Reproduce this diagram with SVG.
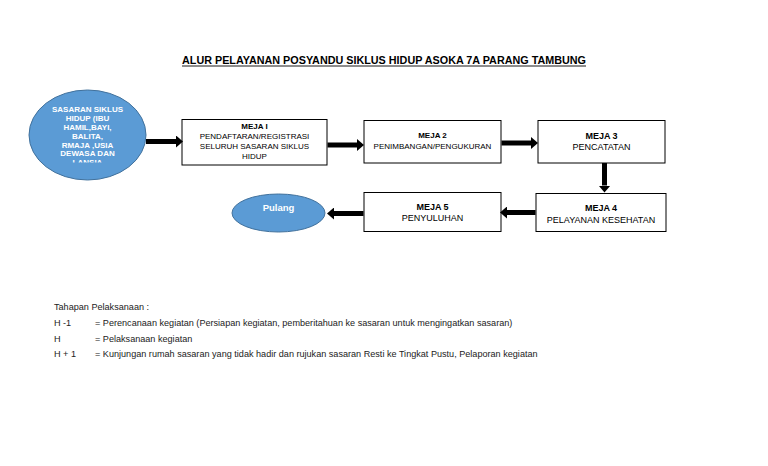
<svg xmlns="http://www.w3.org/2000/svg" width="768" height="466" viewBox="0 0 768 466">
<style>
  text { font-family: "Liberation Sans", Arial, sans-serif; fill: #000; }
  .box { fill: #fff; stroke: #000; stroke-width: 1; }
  .oval { fill: #5b9bd5; stroke: #41719c; stroke-width: 1; }
  .ot { fill: #fff; font-weight: bold; text-anchor: middle; }
  .lbl { font-size: 8px; text-anchor: middle; }
  .lbl9 { font-size: 9px; text-anchor: middle; }
  .b { font-weight: bold; }
  .note { font-size: 9.1px; fill: #222; }
  .conn { stroke: #000; stroke-width: 5; fill: none; marker-end: url(#ah); }
</style>
<defs>
  <marker id="ah" markerUnits="userSpaceOnUse" markerWidth="7" markerHeight="12" viewBox="0 0 7 12" refX="0" refY="6" orient="auto">
    <path d="M0,0 L7,6 L0,12 z" fill="#000"/>
  </marker>
  <clipPath id="ovclip"><rect x="28" y="95" width="120" height="67.5"/></clipPath>
</defs>
<rect width="768" height="466" fill="#fff"/>

<g id="title">
  <text x="384" y="64" text-anchor="middle" font-size="10" font-weight="bold" textLength="404" lengthAdjust="spacingAndGlyphs">ALUR PELAYANAN POSYANDU SIKLUS HIDUP ASOKA 7A PARANG TAMBUNG</text>
  <line x1="182" y1="66" x2="586" y2="66" stroke="#000" stroke-width="0.9"/>
</g>

<g id="sasaran">
  <ellipse class="oval" cx="87.5" cy="135" rx="58.5" ry="45"/>
  <g clip-path="url(#ovclip)" font-size="8">
    <text class="ot" x="87.5" y="112">SASARAN SIKLUS</text>
    <text class="ot" x="87.5" y="121">HIDUP (IBU</text>
    <text class="ot" x="87.5" y="130">HAMIL,BAYI,</text>
    <text class="ot" x="87.5" y="138.5">BALITA,</text>
    <text class="ot" x="87.5" y="147.5">RMAJA ,USIA</text>
    <text class="ot" x="87.5" y="156">DEWASA DAN</text>
    <text class="ot" x="87.5" y="165">LANSIA</text>
  </g>
</g>

<g id="meja1">
  <rect class="box" x="182" y="119.5" width="145" height="45.5"/>
  <text class="lbl b" x="254.5" y="128.5">MEJA I</text>
  <text class="lbl" x="254.5" y="139">PENDAFTARAN/REGISTRASI</text>
  <text class="lbl" x="254.5" y="149">SELURUH SASARAN SIKLUS</text>
  <text class="lbl" x="254.5" y="159">HIDUP</text>
</g>

<g id="meja2">
  <rect class="box" x="364" y="120.5" width="137" height="42.5"/>
  <text class="lbl b" x="432.5" y="137.5">MEJA 2</text>
  <text class="lbl" x="432.5" y="149">PENIMBANGAN/PENGUKURAN</text>
</g>

<g id="meja3">
  <rect class="box" x="538" y="120.5" width="127" height="42.5"/>
  <text class="lbl9 b" x="601.5" y="138.5">MEJA 3</text>
  <text class="lbl9" x="601.5" y="149.5">PENCATATAN</text>
</g>

<g id="meja4">
  <rect class="box" x="536" y="193.5" width="130" height="38"/>
  <text class="lbl9 b" x="601" y="211">MEJA 4</text>
  <text class="lbl9" x="601" y="222.5">PELAYANAN KESEHATAN</text>
</g>

<g id="meja5">
  <rect class="box" x="364" y="192.5" width="137" height="39"/>
  <text class="lbl9 b" x="432.5" y="210">MEJA 5</text>
  <text class="lbl9" x="432.5" y="221">PENYULUHAN</text>
</g>

<g id="pulang">
  <ellipse class="oval" cx="278.5" cy="213" rx="46.5" ry="19"/>
  <text class="ot" x="278.5" y="211" font-size="9.5">Pulang</text>
</g>

<g id="connectors">
  <line class="conn" x1="146" y1="141.5" x2="176" y2="141.5"/>
  <line class="conn" x1="327.5" y1="145" x2="357" y2="145"/>
  <line class="conn" x1="501.5" y1="143" x2="531" y2="143"/>
  <line class="conn" x1="604.5" y1="163" x2="604.5" y2="185.5"/>
  <line class="conn" x1="535.5" y1="212.5" x2="507" y2="212.5"/>
  <line class="conn" x1="363.5" y1="213.5" x2="334" y2="213.5"/>
</g>

<g id="notes">
  <text class="note" x="54" y="310">Tahapan Pelaksanaan :</text>
  <text class="note" x="54" y="326">H -1</text>
  <text class="note" x="95" y="326">= Perencanaan kegiatan (Persiapan kegiatan, pemberitahuan ke sasaran untuk mengingatkan sasaran)</text>
  <text class="note" x="54" y="341.5">H</text>
  <text class="note" x="95" y="341.5">= Pelaksanaan kegiatan</text>
  <text class="note" x="54" y="357">H + 1</text>
  <text class="note" x="95" y="357">= Kunjungan rumah sasaran yang tidak hadir dan rujukan sasaran Resti ke Tingkat Pustu, Pelaporan kegiatan</text>
</g>
</svg>
